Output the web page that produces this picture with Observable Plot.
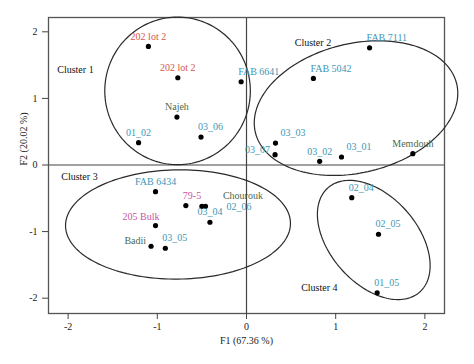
<!DOCTYPE html>
<html>
<head>
<meta charset="utf-8">
<script src="https://cdn.jsdelivr.net/npm/d3@7"></script>
<script src="https://cdn.jsdelivr.net/npm/@observablehq/plot@0.6"></script>
<style>
  html, body { margin: 0; padding: 0; background: #fff; }
</style>
</head>
<body>
<div id="chart"></div>
<script>
// ---- data ----
const names = ["202 lot 2","202 lot 2","Najeh","01_02","03_06","FAB 6641","FAB 7111","FAB 5042","03_03","03_07","03_02","03_01","Memdouh","FAB 6434","79-5","Chourouk","02_06","03_04","205 Bulk","Badii","03_05","02_04","02_05","01_05"];
const f1 = [-1.10,-0.77,-0.78,-1.21,-0.51,-0.06,1.38,0.75,0.325,0.32,0.82,1.065,1.865,-1.02,-0.68,-0.50,-0.46,-0.41,-1.02,-1.07,-0.91,1.18,1.48,1.465];
const f2 = [1.78,1.31,0.72,0.335,0.42,1.25,1.76,1.30,0.33,0.155,0.055,0.12,0.17,-0.40,-0.61,-0.62,-0.62,-0.86,-0.91,-1.22,-1.25,-0.49,-1.04,-1.92];
const groups = ["red","red","green","teal","teal","teal","teal","teal","teal","teal","teal","teal","green","teal","magenta","green","teal","teal","magenta","green","teal","teal","teal","teal"];
const placement = ["n","n","n","n","ne","ne","ne","ne","ne+","w","n","ne+","n","n","ne","e1","e2","n","nw","w","ne","ne","ne","ne"];

const clusterNames = ["Cluster 1","Cluster 2","Cluster 3","Cluster 4"];
const clusterLabelF1 = [-2.122, 0.541, -2.077, 0.613];
const clusterLabelF2 = [1.429, 1.829, -0.171, -1.845];
const ellipseCx = [-0.773, 1.228, -0.768, 1.427];
const ellipseCy = [1.113, 0.854, -0.893, -1.126];
const ellipseHx = [0.816, 1.141, 1.261, 0.632];
const ellipseHy = [1.108, 1.011, 0.82, 0.895];
const ellipseR = [0, 0.22, 0.02, -0.43];

const xTicks = [-2, -1, 0, 1, 2];
const yTicks = [-2, -1, 0, 1, 2];
const xTitle = "F1 (67.36 %)";
const yTitle = "F2 (20.02 %)";

// ---- build tables ----
const points = names.map((n, i) => ({name: n, x: f1[i], y: f2[i], group: groups[i], place: placement[i]}));
const clusters = clusterNames.map((c, i) => ({name: c, x: clusterLabelF1[i], y: clusterLabelF2[i]}));
const ellipsePts = [];
clusterNames.forEach((c, i) => {
  const n = 160, r = ellipseR[i], s = Math.sqrt(1 - r * r);
  for (let k = 0; k <= n; k++) {
    const t = 2 * Math.PI * k / n;
    ellipsePts.push({
      cluster: c,
      x: ellipseCx[i] + ellipseHx[i] * Math.cos(t),
      y: ellipseCy[i] + ellipseHy[i] * (r * Math.cos(t) + s * Math.sin(t))
    });
  }
});

const colorDomain = ["red","teal","green","magenta"];
const colorRange = ["#d9554b","#3d97b6","#4b6a4f","#c8559f"];
const colorOf = g => colorRange[colorDomain.indexOf(g)];

const placeSpec = {
  "n":   {anchor: "middle", dx: 0,  dy: -10},
  "ne":  {anchor: "start",  dx: -3, dy: -10},
  "ne+": {anchor: "start",  dx: 5,  dy: -10},
  "nw":  {anchor: "end",    dx: 4,  dy: -9},
  "w":   {anchor: "end",    dx: -5, dy: -5},
  "e1":  {anchor: "start",  dx: 21, dy: -10},
  "e2":  {anchor: "start",  dx: 21, dy: 1}
};
const labelMarks = Object.entries(placeSpec).map(([key, spec]) =>
  Plot.text(points.filter(d => d.place === key), {
    x: "x", y: "y", text: "name",
    fill: d => colorOf(d.group),
    textAnchor: spec.anchor, dx: spec.dx, dy: spec.dy,
    fontSize: 10
  })
);

const chart = Plot.plot({
  width: 474,
  height: 364,
  marginLeft: 48,
  marginRight: 30,
  marginTop: 17,
  marginBottom: 51,
  style: {fontFamily: "'Liberation Serif', 'DejaVu Serif', serif", fontSize: "10px", background: "#fff", color: "#222"},
  x: {domain: [-2.22, 2.22]},
  y: {domain: [-2.23, 2.215]},
  marks: [
    Plot.ruleX([0], {stroke: "#444", strokeWidth: 1.2}),
    Plot.ruleY([0], {stroke: "#444", strokeWidth: 1.2}),
    Plot.frame({stroke: "#555", strokeWidth: 1.3}),
    Plot.axisX({ticks: xTicks, tickSize: 6, tickPadding: 3, tickFormat: d => String(d), label: null, stroke: "#444", fontSize: 10}),
    Plot.axisY({ticks: yTicks, tickSize: 6, tickPadding: 5, tickFormat: d => String(d), label: null, stroke: "#444", fontSize: 10}),
    Plot.line(ellipsePts, {x: "x", y: "y", z: "cluster", stroke: "#2a2a2a", strokeWidth: 1.2, curve: "linear"}),
    Plot.dot(points, {x: "x", y: "y", r: 2.6, fill: "#000", stroke: null}),
    ...labelMarks,
    Plot.text(clusters, {x: "x", y: "y", text: "name", textAnchor: "start", fill: "#111", fontSize: 10}),
    Plot.text([xTitle], {frameAnchor: "bottom", dy: 30.5, fill: "#222", fontSize: 10}),
    Plot.text([yTitle], {frameAnchor: "left", rotate: -90, dx: -25, fill: "#222", fontSize: 10})
  ]
});
document.getElementById("chart").appendChild(chart);
</script>
</body>
</html>
